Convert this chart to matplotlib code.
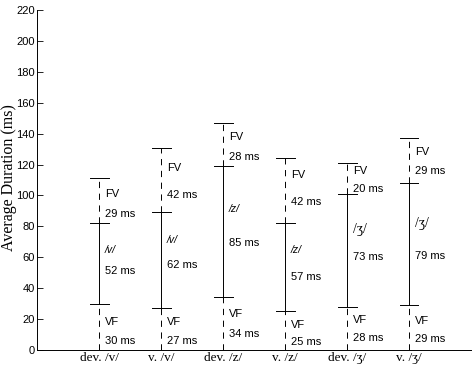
import matplotlib
matplotlib.use("Agg")
import matplotlib.pyplot as plt
import numpy as np

plt.rcParams["lines.scale_dashes"] = False

# segment durations (ms) per condition
categories = ["dev. /v/", "v. /v/", "dev. /z/", "v. /z/", "dev. /ʒ/", "v. /ʒ/"]
phonemes = ["/v/", "/v/", "/z/", "/z/", "/ʒ/", "/ʒ/"]
vf_ms = [30, 27, 34, 25, 28, 29]
fric_ms = [52, 62, 85, 57, 73, 79]
fv_ms = [29, 42, 28, 42, 20, 29]

# label heights (y in ms units)
fv_name_y = [101, 118, 138, 113, 116, 128]
fv_val_y = [88, 100, 125, 96, 104, 115.5]
fric_name_y = [65, 71, 91, 65, 78, 82]
fric_val_y = [51, 55, 69, 47, 60.5, 61]
vf_name_y = [18, 18, 23, 16.5, 19.5, 18.5]
vf_val_y = [6, 6, 10.5, 5.5, 7.5, 7]

sans = ["Liberation Sans", "DejaVu Sans"]
serif = ["Liberation Serif", "DejaVu Serif"]

fig = plt.figure(figsize=(4.74, 3.66), dpi=100)
ax = fig.add_axes([0.079, 0.0437, 0.915, 0.929])

x = np.arange(1, len(categories) + 1)
vf = np.array(vf_ms)
mid = vf + np.array(fric_ms)
top = mid + np.array(fv_ms)

for i, xi in enumerate(x):
    ax.plot([xi, xi], [0, vf[i]], color="black", lw=0.7, dashes=(4.5, 4))
    ax.plot([xi, xi], [vf[i], mid[i]], color="black", lw=0.7)
    ax.plot([xi, xi], [mid[i], top[i]], color="black", lw=0.7, dashes=(4.5, 4))
    for yv in (vf[i], mid[i], top[i]):
        ax.plot([xi - 0.15, xi + 0.15], [yv, yv], color="black", lw=0.7)

    tx = xi + 0.09
    ax.text(tx, fv_name_y[i], "FV", fontsize=8, family=sans, va="center")
    ax.text(tx, fv_val_y[i], f"{fv_ms[i]} ms", fontsize=8, family=sans, va="center")
    if "ʒ" in phonemes[i]:
        ax.text(tx, fric_name_y[i], phonemes[i], fontsize=10, family=serif, va="center")
    else:
        ax.text(tx, fric_name_y[i], phonemes[i], fontsize=7.5, family=sans,
                style="italic", va="center")
    ax.text(tx, fric_val_y[i], f"{fric_ms[i]} ms", fontsize=8, family=sans, va="center")
    ax.text(tx, vf_name_y[i], "VF", fontsize=8, family=sans, va="center")
    ax.text(tx, vf_val_y[i], f"{vf_ms[i]} ms", fontsize=8, family=sans, va="center")

ax.set_xlim(0, 7)
ax.set_ylim(0, 220)
ax.set_yticks(np.arange(0, 221, 20))
ax.set_xticks(x)
ax.set_xticklabels(categories, family=serif, fontsize=9.5)
for lab in ax.get_yticklabels():
    lab.set_family(sans)
    lab.set_fontsize(8)
ax.tick_params(axis="y", direction="in", length=4, width=0.6, pad=2)
ax.tick_params(axis="x", direction="in", length=0, pad=1.5)
ax.spines["top"].set_visible(False)
ax.spines["right"].set_visible(False)
ax.spines["left"].set_linewidth(0.7)
ax.spines["bottom"].set_linewidth(0.7)
fig.text(9 / 474, 1 - 178 / 366, "Average Duration (ms)", family=serif, fontsize=11.5,
         rotation=90, ha="center", va="center")

fig.savefig("out.png", dpi=100)
